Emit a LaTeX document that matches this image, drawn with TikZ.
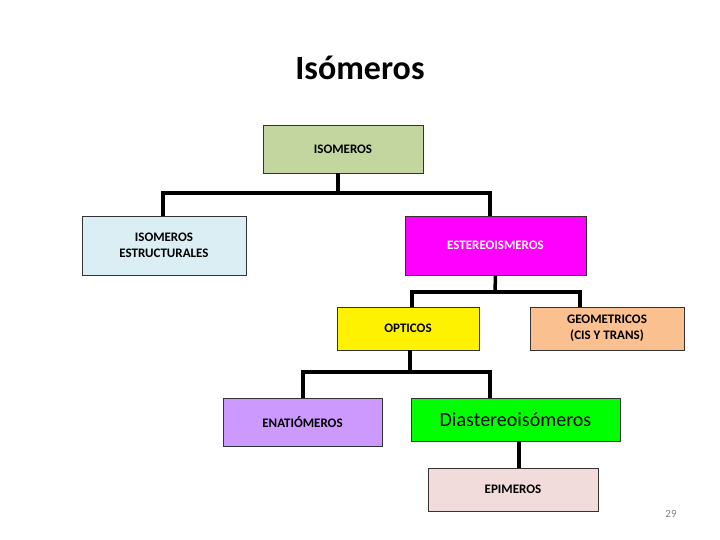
\documentclass[tikz,border=0pt]{standalone}
\usepackage{fontspec}
\setmainfont{Carlito}
\begin{document}
\begin{tikzpicture}[x=1pt,y=-1pt,
  box/.style={draw=black!80,line width=0.8pt,inner sep=0pt,align=center,font=\bfseries\fontsize{13}{16}\selectfont},
  conn/.style={line width=3.5pt}]
\useasboundingbox (0,0) rectangle (720,540);
\node[font=\bfseries\fontsize{34}{40}\selectfont] (title) at (360,68) {Isómeros};
\node[box,fill={rgb,255:red,196;green,214;blue,160},minimum width=160pt,minimum height=48pt] (iso) at (343,149) {ISOMEROS};
\node[box,fill={rgb,255:red,219;green,238;blue,244},minimum width=164pt,minimum height=59pt] (est) at (164,245.5) {ISOMEROS\\ESTRUCTURALES};
\node[box,fill={rgb,255:red,255;green,0;blue,255},text=white,minimum width=181pt,minimum height=59pt] (ster) at (495.5,245.5) {ESTEREOISMEROS};
\node[box,fill=yellow,minimum width=142pt,minimum height=43pt] (opt) at (408,328.5) {OPTICOS};
\node[box,fill={rgb,255:red,250;green,192;blue,144},minimum width=154pt,minimum height=43pt] (geo) at (607,328.5) {GEOMETRICOS\\(CIS Y TRANS)};
\node[box,fill={rgb,255:red,204;green,153;blue,255},minimum width=159pt,minimum height=48pt] (ena) at (302.5,422) {ENATIÓMEROS};
\node[box,fill={rgb,255:red,0;green,255;blue,0},font=\fontsize{20}{24}\selectfont,minimum width=209pt,minimum height=43pt] (dia) at (515.5,419.5) {Diastereoisómeros};
\node[box,fill={rgb,255:red,242;green,220;blue,219},minimum width=170pt,minimum height=43pt] (epi) at (513,489.5) {EPIMEROS};
\node[text=gray,font=\fontsize{11}{13}\selectfont] (num) at (671,514) {29};
\draw[conn] (iso.south -| 338,0) -- (338,193) coordinate (j1);
\draw[conn] (est.north -| 163,0) |- (j1) -| (ster.north -| 490,0);
\draw[conn] (ster.south) -- (495,292) coordinate (j2);
\draw[conn] (opt.north -| 412,0) |- (j2) -| (geo.north -| 580,0);
\draw[conn] (opt.south -| 410,0) -- (410,372) coordinate (j3);
\draw[conn] (ena.north -| 303,0) |- (j3) -| (dia.north -| 490,0);
\draw[conn] (dia.south -| 519,0) -- (epi.north -| 519,0);
\end{tikzpicture}
\end{document}
